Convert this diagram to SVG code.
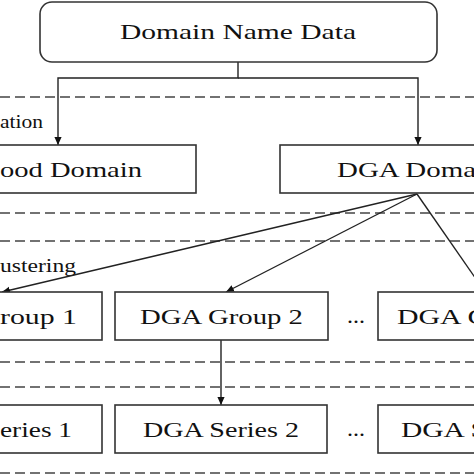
<svg xmlns="http://www.w3.org/2000/svg" width="474" height="474" viewBox="0 0 474 474">
<defs>
<style>
.box{fill:#fff;stroke:#333;stroke-width:1.6}
.t{font-family:"Liberation Serif","Times New Roman",serif;font-size:22px;fill:#111}
.s{font-family:"Liberation Serif","Times New Roman",serif;font-size:18px;fill:#111}
.dash{stroke:#444;stroke-width:1.6;stroke-dasharray:10 5;fill:none}
.c{stroke:#222;stroke-width:1.4;fill:none}
</style>
<marker id="ah" viewBox="0 0 10 10" refX="10" refY="5" markerWidth="8" markerHeight="8" markerUnits="userSpaceOnUse" orient="auto">
<path d="M0,0.5 L10,5 L0,9.5 z" fill="#111"/>
</marker>
</defs>
<rect width="474" height="474" fill="#fff"/>
<g id="layers">
<line class="dash" x1="0" y1="97" x2="474" y2="97"/>
<line class="dash" x1="0" y1="213" x2="474" y2="213"/>
<line class="dash" x1="0" y1="241" x2="474" y2="241"/>
<line class="dash" x1="0" y1="362" x2="474" y2="362"/>
<line class="dash" x1="0" y1="387" x2="474" y2="387"/>
<line class="dash" x1="0" y1="473" x2="474" y2="473"/>
<text class="s" x="0" y="128" textLength="43" lengthAdjust="spacingAndGlyphs">ation</text>
<text class="s" x="0" y="272" textLength="76" lengthAdjust="spacingAndGlyphs">ustering</text>
</g>
<g id="connectors">
<polyline class="c" points="238,62 238,78 58,78 58,145" marker-end="url(#ah)"/>
<polyline class="c" points="238,78 418,78 418,145" marker-end="url(#ah)"/>
<line class="c" x1="417" y1="194" x2="2" y2="292" marker-end="url(#ah)"/>
<line class="c" x1="417" y1="194" x2="226" y2="292" marker-end="url(#ah)"/>
<line class="c" x1="417" y1="194" x2="485" y2="292" marker-end="url(#ah)"/>
<line class="c" x1="221" y1="340" x2="221" y2="405" marker-end="url(#ah)"/>
</g>
<g id="domain-name-data">
<rect class="box" x="40" y="2" width="397" height="60" rx="12"/>
<text class="t" x="120" y="39" textLength="236" lengthAdjust="spacingAndGlyphs">Domain Name Data</text>
</g>
<g id="good-domain">
<rect class="box" x="-10" y="145" width="206" height="48"/>
<text class="t" x="0" y="177" textLength="142" lengthAdjust="spacingAndGlyphs">ood Domain</text>
</g>
<g id="dga-domain">
<rect class="box" x="280" y="145" width="210" height="48"/>
<text class="t" x="337" y="177" textLength="139" lengthAdjust="spacingAndGlyphs">DGA Doma</text>
</g>
<g id="dga-group-1">
<rect class="box" x="-10" y="292" width="112" height="48"/>
<text class="t" x="0" y="324" textLength="77" lengthAdjust="spacingAndGlyphs">roup 1</text>
</g>
<g id="dga-group-2">
<rect class="box" x="115" y="292" width="213" height="48"/>
<text class="t" x="140" y="324" textLength="163" lengthAdjust="spacingAndGlyphs">DGA Group 2</text>
</g>
<g id="ellipsis-1"><text class="t" x="347" y="323" textLength="18" lengthAdjust="spacingAndGlyphs">...</text></g>
<g id="dga-group-n">
<rect class="box" x="378" y="292" width="110" height="48"/>
<text class="t" x="397" y="324" textLength="92" lengthAdjust="spacingAndGlyphs">DGA G</text>
</g>
<g id="dga-series-1">
<rect class="box" x="-10" y="405" width="112" height="48"/>
<text class="t" x="0" y="437" textLength="72" lengthAdjust="spacingAndGlyphs">eries 1</text>
</g>
<g id="dga-series-2">
<rect class="box" x="115" y="405" width="212" height="48"/>
<text class="t" x="143" y="437" textLength="156" lengthAdjust="spacingAndGlyphs">DGA Series 2</text>
</g>
<g id="ellipsis-2"><text class="t" x="347" y="436" textLength="18" lengthAdjust="spacingAndGlyphs">...</text></g>
<g id="dga-series-n">
<rect class="box" x="378" y="405" width="110" height="48"/>
<text class="t" x="401" y="437" textLength="86" lengthAdjust="spacingAndGlyphs">DGA S</text>
</g>
</svg>
